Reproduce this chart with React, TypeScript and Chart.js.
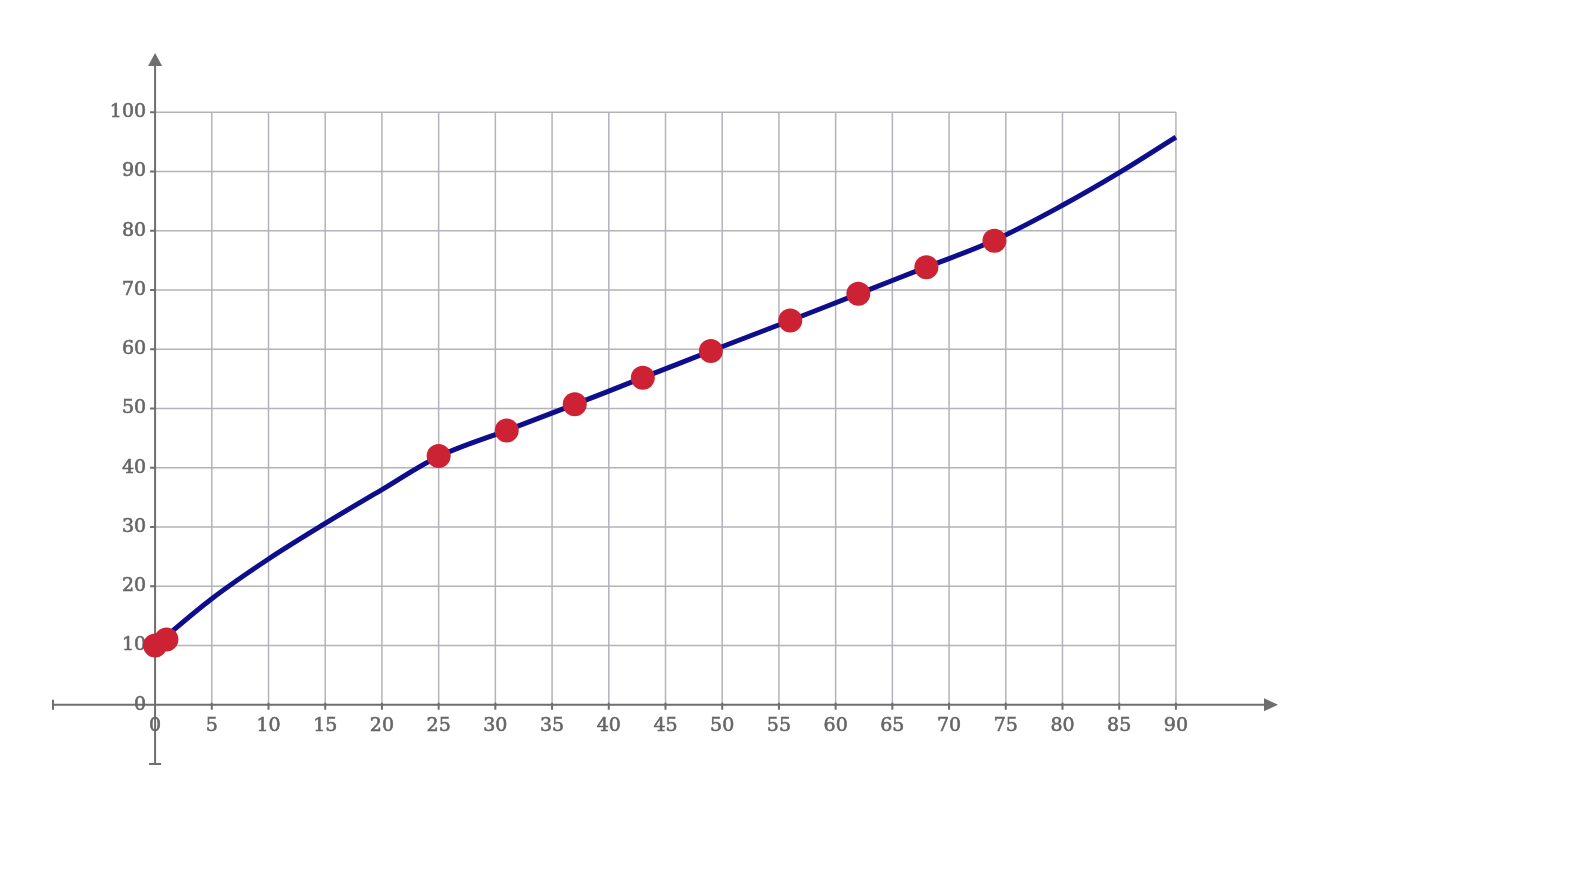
import { Chart, ChartConfiguration, Plugin, registerables } from 'chart.js';
import { useEffect, useRef } from 'react';

// observed points (red markers)
const pointX = [0, 1, 25, 31, 37, 43, 49, 56, 62, 68, 74];
const pointY = [10, 11, 42, 46.3, 50.7, 55.2, 59.7, 64.85, 69.35, 73.85, 78.3];

// fitted curve
const curveX = [0, 5, 10, 15, 20, 25, 31, 37, 43, 49, 56, 62, 68, 74, 80, 85, 90];
const curveY = [10, 17.9, 24.6, 30.6, 36.3, 41.9, 46.3, 50.7, 55.2, 59.7, 64.85, 69.35, 73.85, 78.4, 84.3, 89.8, 95.8];

const xTicks = [0, 5, 10, 15, 20, 25, 30, 35, 40, 45, 50, 55, 60, 65, 70, 75, 80, 85, 90];
const yTicks = [0, 10, 20, 30, 40, 50, 60, 70, 80, 90, 100];

const AXIS = '#6e6e6e';
const GRID = '#b3b3bb';
const LABEL = '#666666';

const axesPlugin: Plugin = {
    id: 'mathAxes',
    beforeDatasetsDraw(chart) {
        const ctx = chart.ctx;
        const xs = chart.scales.x;
        const ys = chart.scales.y;
        const px = (v: number) => xs.getPixelForValue(v);
        const py = (v: number) => ys.getPixelForValue(v);
        const x0 = px(0), y0 = py(0);
        const xEnd = px(xTicks[xTicks.length - 1]);
        const yEnd = py(yTicks[yTicks.length - 1]);

        ctx.save();
        // grid
        ctx.strokeStyle = GRID;
        ctx.lineWidth = 1.5;
        ctx.beginPath();
        xTicks.forEach(t => {
            if (t === 0) return;
            ctx.moveTo(px(t), y0);
            ctx.lineTo(px(t), yEnd);
        });
        yTicks.forEach(t => {
            if (t === 0) return;
            ctx.moveTo(x0, py(t));
            ctx.lineTo(xEnd, py(t));
        });
        ctx.stroke();

        // axes
        const xMin = xs.min, xMax = xs.max, yMin = ys.min, yMax = ys.max;
        ctx.strokeStyle = AXIS;
        ctx.fillStyle = AXIS;
        ctx.lineWidth = 2;
        ctx.beginPath();
        ctx.moveTo(px(xMin), y0);
        ctx.lineTo(px(xMax) - 12, y0);
        ctx.moveTo(px(xMin), y0 - 5);
        ctx.lineTo(px(xMin), y0 + 5);
        ctx.moveTo(x0, py(yMin));
        ctx.lineTo(x0, py(yMax) + 12);
        ctx.moveTo(x0 - 6, py(yMin));
        ctx.lineTo(x0 + 6, py(yMin));
        xTicks.forEach(t => {
            ctx.moveTo(px(t), y0 - 2);
            ctx.lineTo(px(t), y0 + 5);
        });
        yTicks.forEach(t => {
            ctx.moveTo(x0 - 5, py(t));
            ctx.lineTo(x0, py(t));
        });
        ctx.stroke();

        // arrows
        ctx.beginPath();
        ctx.moveTo(px(xMax), y0);
        ctx.lineTo(px(xMax) - 14, y0 - 6.5);
        ctx.lineTo(px(xMax) - 14, y0 + 6.5);
        ctx.closePath();
        ctx.moveTo(x0, py(yMax));
        ctx.lineTo(x0 - 7, py(yMax) + 13);
        ctx.lineTo(x0 + 7, py(yMax) + 13);
        ctx.closePath();
        ctx.fill();

        // labels (slightly thickened to match the medium weight)
        ctx.fillStyle = LABEL;
        ctx.strokeStyle = LABEL;
        ctx.lineWidth = 0.6;
        ctx.font = '19px "DejaVu Serif", serif';
        ctx.textAlign = 'center';
        ctx.textBaseline = 'middle';
        xTicks.forEach(t => {
            ctx.fillText(String(t), px(t), y0 + 21);
            ctx.strokeText(String(t), px(t), y0 + 21);
        });
        ctx.textAlign = 'right';
        yTicks.forEach(t => {
            ctx.fillText(String(t), x0 - 9, py(t));
            ctx.strokeText(String(t), x0 - 9, py(t));
        });
        ctx.restore();
    }
};

export default function App() {
    const chartEl = useRef<HTMLCanvasElement>(null);

    useEffect(() => {
        Chart.register(...registerables);
        const config: ChartConfiguration<'scatter'> = {
            type: 'scatter',
            data: {
                datasets: [
                    {
                        label: 'points',
                        data: pointX.map((x, i) => ({ x, y: pointY[i] })),
                        backgroundColor: '#cc2233',
                        borderColor: '#cc2233',
                        pointRadius: 12,
                        pointHoverRadius: 12,
                        borderWidth: 0,
                        order: 1,
                    },
                    {
                        label: 'curve',
                        data: curveX.map((x, i) => ({ x, y: curveY[i] })),
                        showLine: true,
                        borderColor: '#0e0e8c',
                        borderWidth: 5,
                        pointRadius: 0,
                        tension: 0.35,
                        order: 2,
                    },
                ],
            },
            options: {
                animation: false,
                responsive: true,
                maintainAspectRatio: false,
                layout: { padding: { left: 53, right: 318, top: 53, bottom: 105 } },
                plugins: { legend: { display: false }, tooltip: { enabled: false } },
                scales: {
                    x: { type: 'linear', min: -9, max: 99, display: false },
                    y: { type: 'linear', min: -10, max: 110, display: false },
                },
            },
            plugins: [axesPlugin],
        };
        const myChart = new Chart(chartEl.current as HTMLCanvasElement, config);
        return () => {
            myChart.destroy();
        };
    }, []);

    return (
        <div style={{ position: 'fixed', left: 0, top: 0, width: '1596px', height: '869px', background: '#fff' }}>
            <canvas ref={chartEl}></canvas>
        </div>
    );
}
